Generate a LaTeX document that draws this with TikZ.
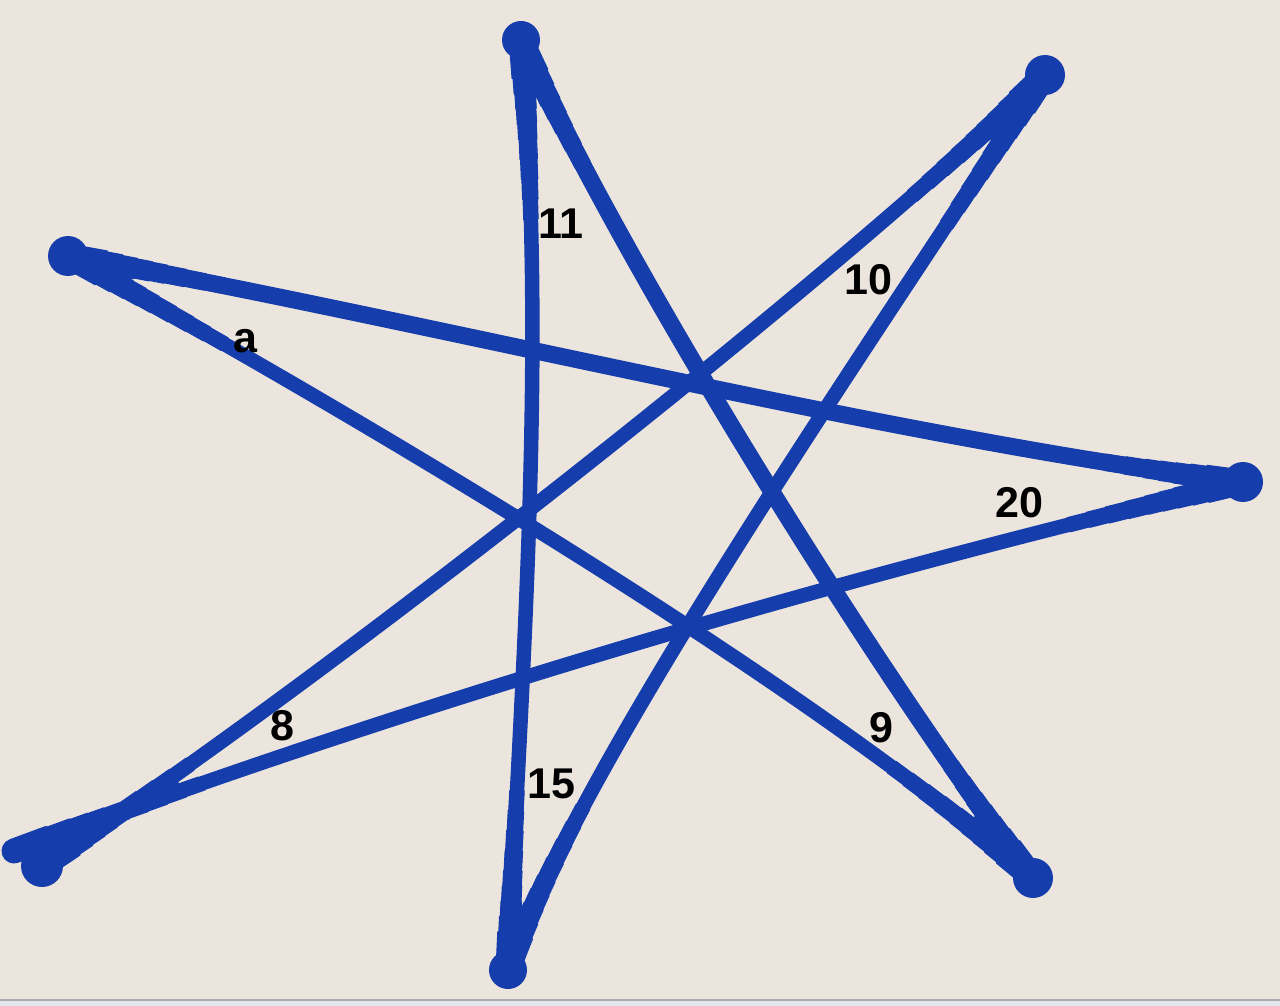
\documentclass[tikz,border=0pt]{standalone}
\usepackage{fontspec}
\setmainfont{Liberation Sans}
\definecolor{paper}{RGB}{236,229,222}
\definecolor{ink}{RGB}{21,61,172}
\definecolor{rim}{RGB}{172,170,174}
\definecolor{strip}{RGB}{226,229,236}
\def\starpath{(LLs) .. controls (420,700) and (830,580) .. (R)
  .. controls (900,440) and (400,315) .. (L)
  .. controls (400,440) and (800,680) .. (LR)
  .. controls (880,680) and (620,260) .. (T)
  .. controls (548,350) and (520,700) .. (B)
  .. controls (580,760) and (880,330) .. (UR)
  .. controls (850,265) and (340,670) .. (LL)}
\def\tips#1{(R) circle (#1) (L) circle (#1) (LR) circle (#1) (T) circle (#1)
  (B) circle (#1) (UR) circle (#1) (LL) circle (#1) (LLs) circle (#1)}
\begin{document}
\begin{tikzpicture}[x=0.02cm,y=-0.02cm,
  pen/.style={ink,line width=0.29cm,line cap=round,line join=round},
  thick pen/.style={pen,line width=0.34cm},
  lbl/.style={font=\fontsize{24.5}{28}\selectfont\bfseries,inner sep=0pt,anchor=base}]
\useasboundingbox (0,0) rectangle (1280,1006);
\fill[paper] (0,0) rectangle (1280,1000);
\fill[strip] (0,1000) rectangle (1280,1006);
\draw[rim,line width=0.04cm] (0,1000) -- (1280,1000);
% tips of the star
\coordinate (LLs) at (14,851);
\coordinate (R) at (1243,482);
\coordinate (L) at (68,256);
\coordinate (LR) at (1033,878);
\coordinate (T) at (521,40);
\coordinate (B) at (508,970);
\coordinate (UR) at (1045,75);
\coordinate (LL) at (42,866);
% the strokes, tip to tip
\draw[pen] (LLs) .. controls (420,700) and (830,580) .. (R);
\draw[thick pen] (R) .. controls (900,440) and (400,315) .. (L);
\draw[pen] (L) .. controls (400,440) and (800,680) .. (LR);
\draw[thick pen] (LR) .. controls (880,680) and (620,260) .. (T);
\draw[pen] (T) .. controls (548,350) and (520,700) .. (B);
\draw[pen] (B) .. controls (580,760) and (880,330) .. (UR);
\draw[pen] (UR) .. controls (850,265) and (340,670) .. (LL);
% heavier ink near the tips
\foreach \r/\w in {3.6/0.31,3.2/0.33,2.8/0.35,2.4/0.37,2.0/0.39,1.7/0.41,
  1.4/0.43,1.1/0.46,0.8/0.5}{
  \begin{scope}
  \clip \tips{\r cm};
  \draw[pen,line width=\w cm] \starpath;
  \end{scope}
}
\fill[ink] (R) circle (0.4cm);
\fill[ink] (L) circle (0.4cm);
\fill[ink] (LR) circle (0.4cm);
\fill[ink] (T) circle (0.38cm);
\fill[ink] (B) circle (0.38cm);
\fill[ink] (UR) circle (0.4cm);
\fill[ink] (LL) circle (0.42cm);
% labels
\node[lbl] (n11) at (561,239) {11};
\node[lbl] (n10) at (868,295) {10};
\node[lbl] (na) at (245,353) {a};
\node[lbl] (n20) at (1019,517) {20};
\node[lbl] (n8) at (282,740) {8};
\node[lbl] (n9) at (881,742) {9};
\node[lbl] (n15) at (551,798) {15};
\end{tikzpicture}
\end{document}
